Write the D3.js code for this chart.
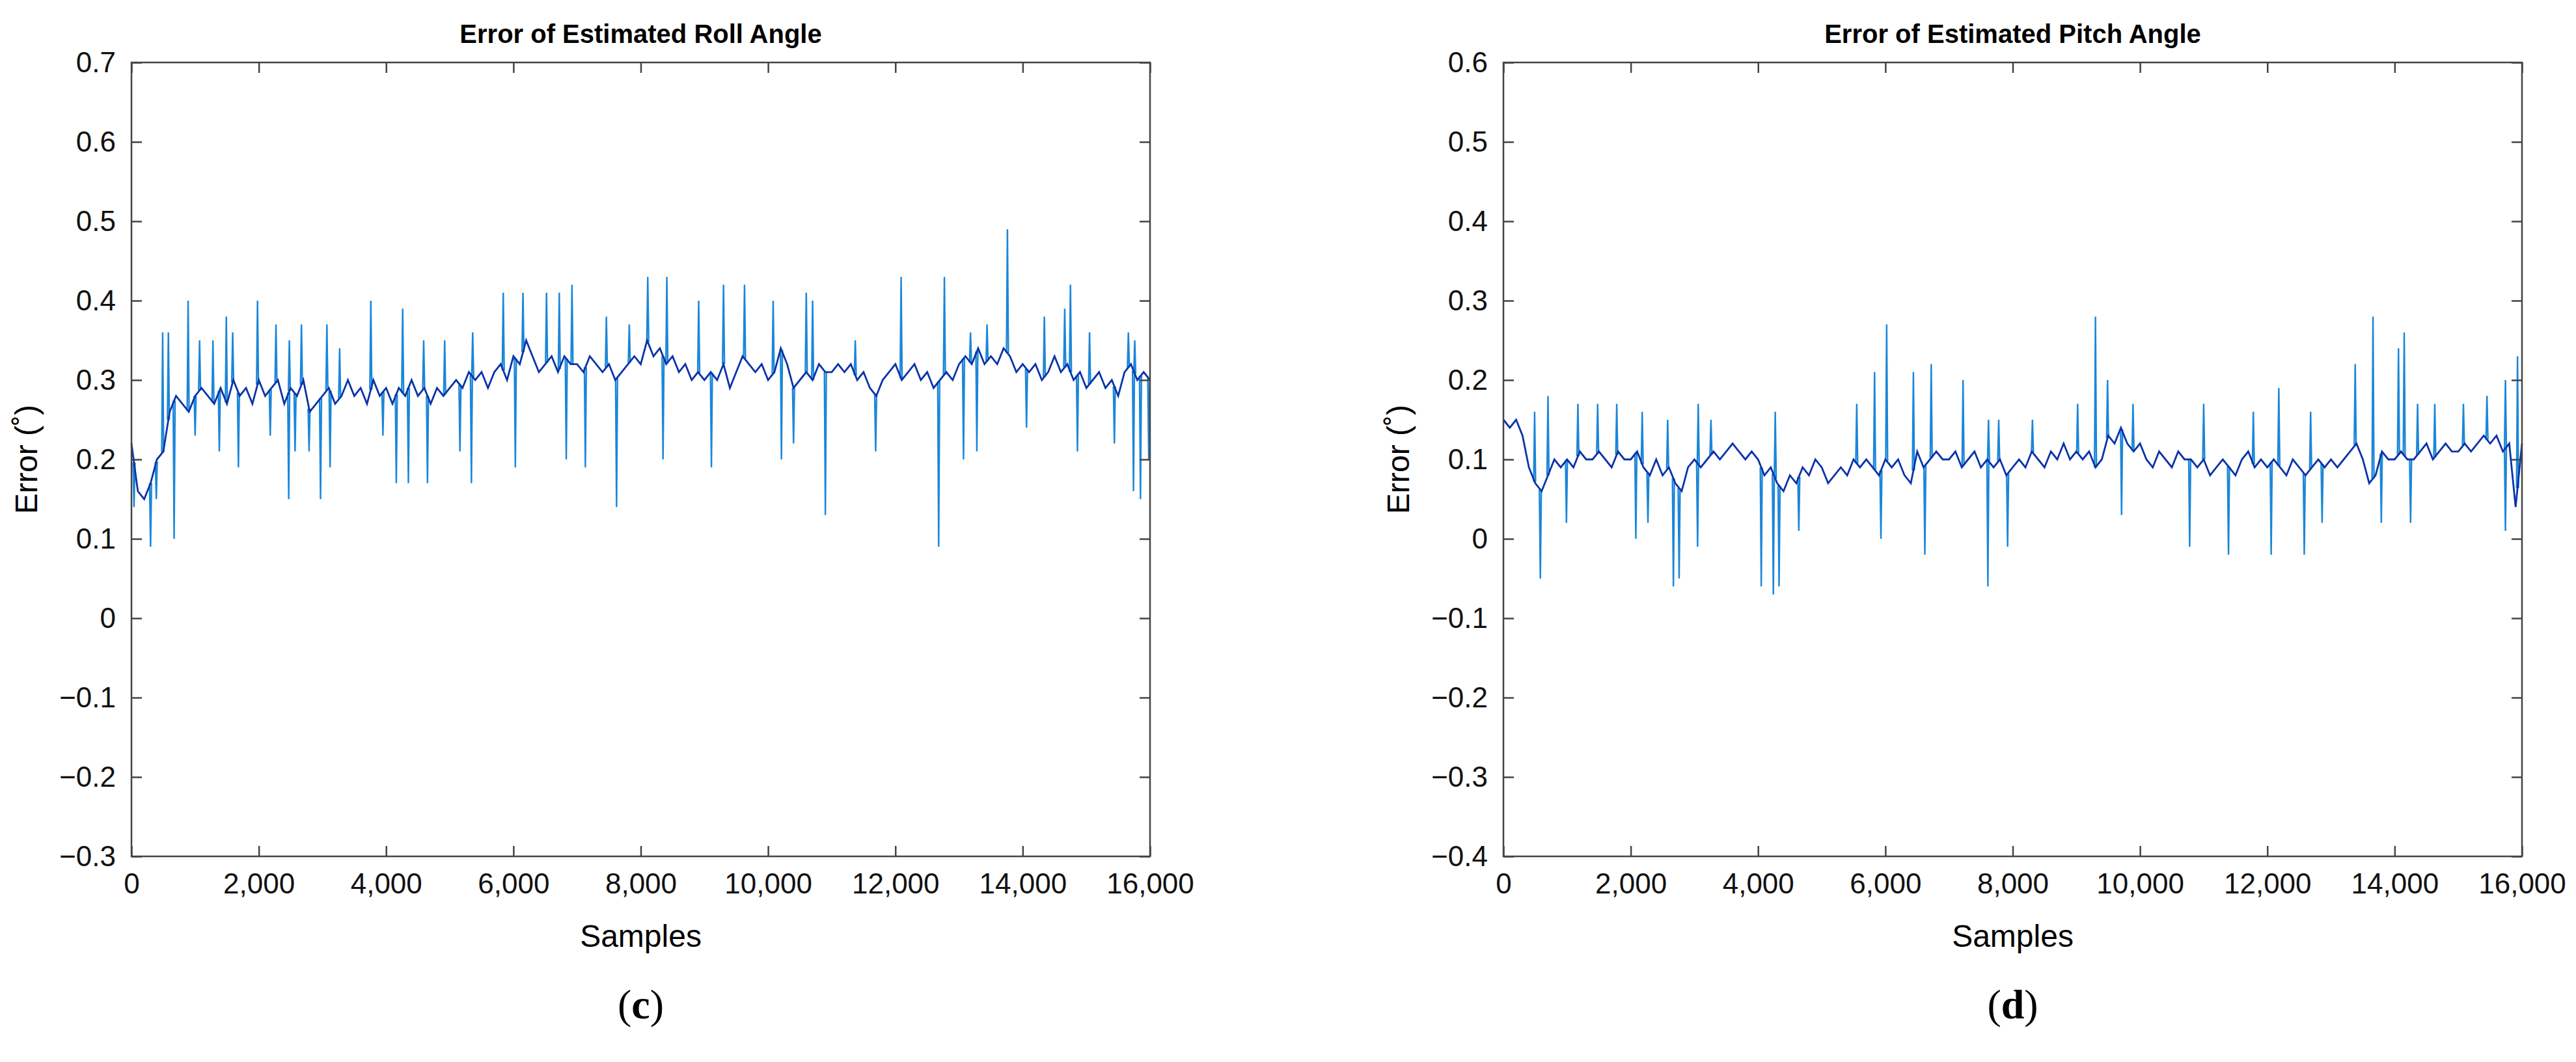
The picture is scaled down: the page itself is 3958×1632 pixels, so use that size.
<!DOCTYPE html>
<html>
<head>
<meta charset="utf-8">
<script src="https://cdn.jsdelivr.net/npm/d3@7"></script>
<style>
  body { margin: 0; background: #fff; }
  text { font-family: "Liberation Sans", Arial, sans-serif; }
</style>
</head>
<body>
<div class="wrapper"></div>
<script>
// x ticks shared by both panels
var xTicks = [0, 2000, 4000, 6000, 8000, 10000, 12000, 14000, 16000];
var rollTicks = [-0.3, -0.2, -0.1, 0, 0.1, 0.2, 0.3, 0.4, 0.5, 0.6, 0.7];
var pitchTicks = [-0.4, -0.3, -0.2, -0.1, 0, 0.1, 0.2, 0.3, 0.4, 0.5, 0.6];

// baseline every 100 samples
var step = 100;
var rollBase = [0.22,0.16,0.15,0.17,0.20,0.21,0.26,0.28,0.27,0.26,0.28,
  0.29,0.28,0.27,0.29,0.27,0.30,0.28,0.29,0.27,0.30,
  0.28,0.29,0.30,0.27,0.29,0.28,0.30,0.26,0.27,0.28,
  0.29,0.27,0.28,0.30,0.28,0.29,0.27,0.30,0.28,0.29,
  0.27,0.29,0.28,0.30,0.28,0.29,0.27,0.29,0.28,0.29,
  0.30,0.29,0.31,0.30,0.31,0.29,0.31,0.32,0.30,0.33,
  0.32,0.35,0.33,0.31,0.32,0.33,0.31,0.33,0.32,0.32,
  0.31,0.33,0.32,0.31,0.32,0.30,0.31,0.32,0.33,0.32,
  0.35,0.33,0.34,0.32,0.33,0.31,0.32,0.30,0.31,0.30,
  0.31,0.30,0.32,0.29,0.31,0.33,0.32,0.31,0.32,0.30,
  0.31,0.34,0.32,0.29,0.30,0.31,0.30,0.32,0.31,0.31,
  0.32,0.31,0.32,0.30,0.31,0.29,0.28,0.30,0.31,0.32,
  0.30,0.31,0.32,0.30,0.31,0.29,0.30,0.31,0.30,0.32,
  0.33,0.32,0.34,0.32,0.33,0.32,0.34,0.33,0.31,0.32,
  0.31,0.32,0.30,0.31,0.33,0.31,0.32,0.30,0.31,0.29,
  0.30,0.31,0.29,0.30,0.28,0.31,0.32,0.30,0.31,0.30];
var rollSpikes = [[490,0.36],[580,0.36],[890,0.40],[1070,0.35],[1280,0.35],[1490,0.38],[1590,0.36],[1980,0.40],
  [2270,0.37],[2480,0.35],[2670,0.37],[3070,0.37],[3270,0.34],[3760,0.40],[4260,0.39],[4590,0.35],[4920,0.35],
  [5360,0.36],[5840,0.41],[6150,0.41],[6520,0.41],[6720,0.41],[6920,0.42],[7460,0.38],[7820,0.37],[8110,0.43],
  [8410,0.43],[8910,0.40],[9300,0.42],[9630,0.42],[10080,0.40],[10600,0.41],[10700,0.40],[11370,0.35],[12090,0.43],
  [12770,0.43],[13180,0.36],[13440,0.37],[13760,0.49],[14340,0.38],[14660,0.39],[14750,0.42],[15050,0.36],
  [15660,0.36],[15760,0.35],
  [40,0.14],[300,0.09],[390,0.15],[670,0.10],[1000,0.23],[1380,0.21],[1680,0.19],[2180,0.23],[2470,0.15],
  [2570,0.21],[2790,0.21],[2970,0.15],[3120,0.19],[3950,0.23],[4160,0.17],[4350,0.17],[4650,0.17],[5160,0.21],
  [5340,0.17],[6030,0.19],[6830,0.20],[7130,0.19],[7620,0.14],[8350,0.20],[9110,0.19],[10210,0.20],[10400,0.22],
  [10900,0.13],[11690,0.21],[12680,0.09],[13070,0.20],[13280,0.21],[14060,0.24],[14860,0.21],[15440,0.22],
  [15740,0.16],[15850,0.15],[15980,0.20]];

var pitchBase = [0.15,0.14,0.15,0.13,0.09,0.07,0.06,0.08,0.10,0.09,0.10,
  0.09,0.11,0.10,0.10,0.11,0.10,0.09,0.11,0.10,0.10,
  0.11,0.09,0.08,0.10,0.08,0.09,0.07,0.06,0.09,0.10,
  0.09,0.10,0.11,0.10,0.11,0.12,0.11,0.10,0.11,0.10,
  0.08,0.09,0.07,0.06,0.08,0.07,0.09,0.08,0.10,0.09,
  0.07,0.08,0.09,0.08,0.10,0.09,0.10,0.09,0.08,0.10,
  0.09,0.10,0.08,0.07,0.11,0.09,0.10,0.11,0.10,0.10,
  0.11,0.09,0.10,0.11,0.09,0.10,0.09,0.10,0.08,0.09,
  0.10,0.09,0.11,0.10,0.09,0.11,0.10,0.12,0.10,0.11,
  0.10,0.11,0.09,0.10,0.13,0.12,0.14,0.12,0.11,0.12,
  0.10,0.09,0.11,0.10,0.09,0.11,0.10,0.10,0.09,0.10,
  0.08,0.09,0.10,0.09,0.08,0.10,0.11,0.09,0.10,0.09,
  0.10,0.09,0.08,0.10,0.09,0.08,0.09,0.10,0.09,0.10,
  0.09,0.10,0.11,0.12,0.10,0.07,0.08,0.11,0.10,0.10,
  0.11,0.10,0.10,0.11,0.12,0.10,0.11,0.12,0.11,0.11,
  0.12,0.11,0.12,0.13,0.12,0.13,0.11,0.12,0.04,0.12];
var pitchSpikes = [[490,0.16],[700,0.18],[1170,0.17],[1480,0.17],[1780,0.17],[2180,0.16],[2580,0.15],[3060,0.17],
  [3260,0.15],[4270,0.16],[5550,0.17],[5830,0.21],[6020,0.27],[6440,0.21],[6720,0.22],[7220,0.20],[7620,0.15],
  [7780,0.15],[8310,0.15],[9020,0.17],[9300,0.28],[9490,0.20],[9890,0.17],[11000,0.17],[11780,0.16],[12180,0.19],
  [12680,0.16],[13380,0.22],[13660,0.28],[14060,0.24],[14150,0.26],[14360,0.17],[14630,0.17],[15080,0.17],
  [15450,0.18],[15740,0.20],[15930,0.23],
  [580,-0.05],[990,0.02],[2080,0.00],[2270,0.02],[2670,-0.06],[2760,-0.05],[3050,-0.01],[4050,-0.06],[4240,-0.07],
  [4330,-0.06],[4640,0.01],[5930,0.00],[6620,-0.02],[7610,-0.06],[7920,-0.01],[9710,0.03],[10780,-0.01],
  [11390,-0.02],[12060,-0.02],[12580,-0.02],[12860,0.02],[13790,0.02],[14250,0.02],[15740,0.01]];

var W = 3958, H = 1632;
var svg = d3.select(".wrapper").append("svg").attr("width", W).attr("height", H);

function panel(left, title, base, spikes, yTicks, letter) {
  var x0 = left, x1 = left + 1565, y0 = 96, y1 = 1316;
  var x = d3.scaleLinear().domain([0, 16000]).range([x0, x1]);
  var y = d3.scaleLinear().domain([yTicks[0], yTicks[yTicks.length - 1]]).range([y1, y0]);
  var g = svg.append("g");
  var basePts = base.map(function(v, i) { return [i * step, v]; });
  var baseAt = function(s) {
    var i = Math.min(Math.floor(s / step), base.length - 2), t = (s - i * step) / step;
    return base[i] * (1 - t) + base[i + 1] * t;
  };
  var line = d3.line().x(function(d) { return x(d[0]); }).y(function(d) { return y(d[1]); });

  // spikes in lighter blue
  var sp = "";
  spikes.forEach(function(s) {
    var b = baseAt(s[0]);
    sp += line([[s[0] - 15, b], [s[0], s[1]], [s[0] + 15, b]]);
  });
  g.append("path").attr("d", sp).attr("fill", "none").attr("stroke", "#1b86d8").attr("stroke-width", 2.4);
  g.append("path").attr("d", line(basePts)).attr("fill", "none").attr("stroke", "#0a33a8").attr("stroke-width", 2.8);

  // box + ticks (MATLAB style, ticks inside on all sides)
  g.append("rect").attr("x", x0).attr("y", y0).attr("width", x1 - x0).attr("height", y1 - y0)
    .attr("fill", "none").attr("stroke", "#444").attr("stroke-width", 2.5);
  var ax = function(a, tr) { return g.append("g").attr("transform", tr).call(a); };
  ax(d3.axisBottom(x).tickValues(xTicks).tickSize(-16).tickPadding(26).tickFormat(d3.format(",")), "translate(0," + y1 + ")");
  ax(d3.axisTop(x).tickValues(xTicks).tickSize(-16).tickFormat(""), "translate(0," + y0 + ")");
  ax(d3.axisLeft(y).tickValues(yTicks).tickSize(-16).tickPadding(24).tickFormat(function(d) { return d < 0 ? "\u2212" + Math.abs(d) : d; }), "translate(" + x0 + ",0)");
  ax(d3.axisRight(y).tickValues(yTicks).tickSize(-16).tickFormat(""), "translate(" + x1 + ",0)");
  g.selectAll(".domain").remove();
  g.selectAll(".tick line").attr("stroke", "#444").attr("stroke-width", 2.5);
  g.selectAll(".tick text").attr("font-size", 44).attr("fill", "#111").style("font-family", "Liberation Sans, Arial");

  g.append("text").attr("x", (x0 + x1) / 2).attr("y", 66).attr("text-anchor", "middle")
    .attr("font-size", 40).attr("font-weight", "bold").text(title);
  g.append("text").attr("x", (x0 + x1) / 2).attr("y", 1455).attr("text-anchor", "middle")
    .attr("font-size", 48).text("Samples");
  g.append("text").attr("transform", "translate(" + (x0 - 145) + "," + ((y0 + y1) / 2) + ")rotate(-90)")
    .attr("text-anchor", "middle").attr("font-size", 48).text("Error (\u02da)");
  var lt = g.append("text").attr("x", (x0 + x1) / 2).attr("y", 1565).attr("text-anchor", "middle")
    .attr("font-size", 64).style("font-family", "Liberation Serif, serif");
  lt.append("tspan").text("(");
  lt.append("tspan").attr("font-weight", "bold").text(letter);
  lt.append("tspan").text(")");
}

panel(202, "Error of Estimated Roll Angle", rollBase, rollSpikes, rollTicks, "c");
panel(2310, "Error of Estimated Pitch Angle", pitchBase, pitchSpikes, pitchTicks, "d");
</script>
</body>
</html>
